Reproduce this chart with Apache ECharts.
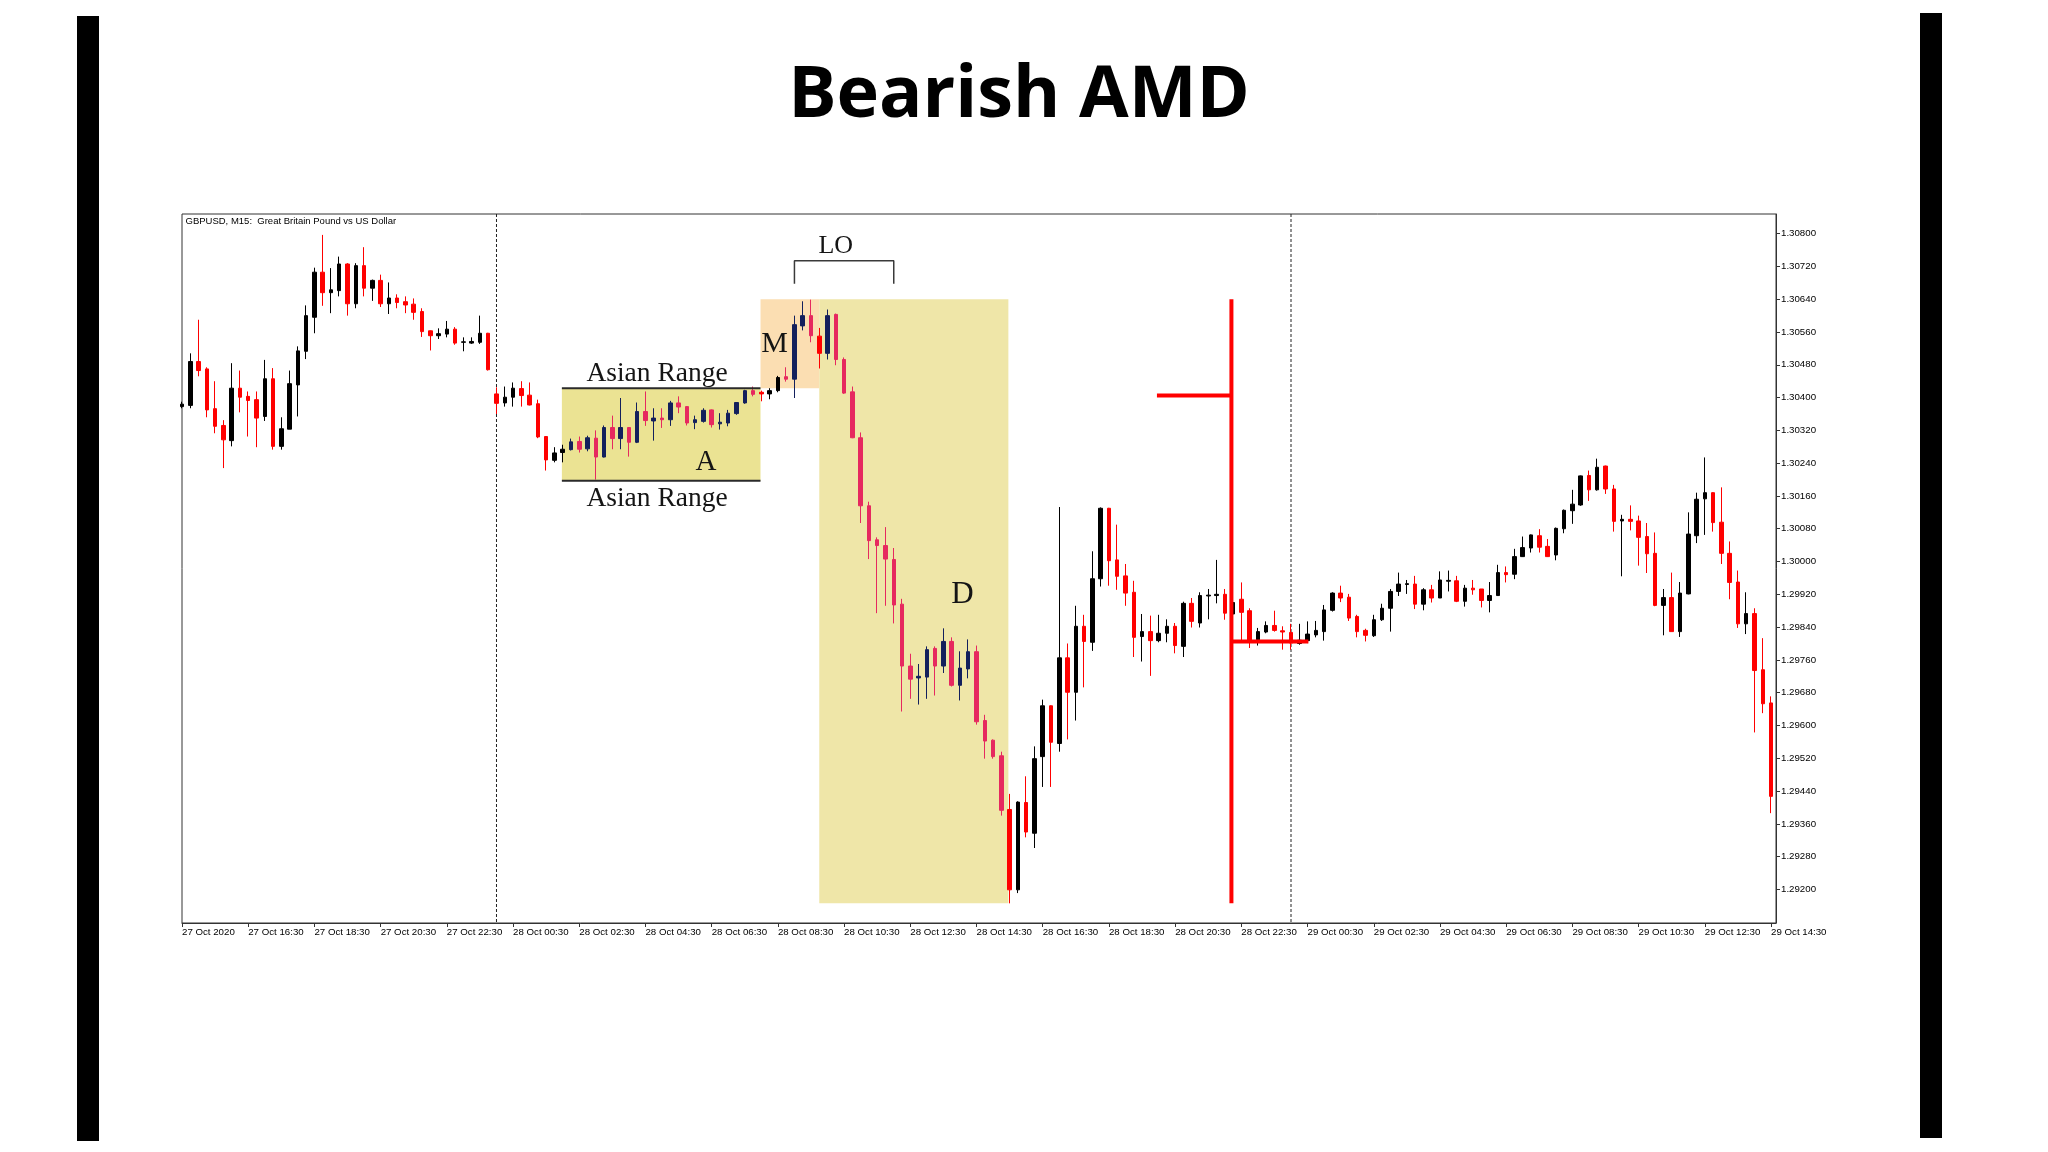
<!DOCTYPE html>
<html>
<head>
<meta charset="utf-8">
<title>Bearish AMD</title>
<script src="https://cdn.jsdelivr.net/npm/echarts@6.0.0/dist/echarts.min.js"></script>
<style>
html,body{margin:0;padding:0;background:#ffffff;}
#main{width:2048px;height:1152px;}
</style>
</head>
<body>
<div id="main"></div>
<script>
//x轴时间标签, 每8根K线(M15)一个
var timeLabels = ['27 Oct 2020','27 Oct 16:30','27 Oct 18:30','27 Oct 20:30','27 Oct 22:30',
	'28 Oct 00:30','28 Oct 02:30','28 Oct 04:30','28 Oct 06:30','28 Oct 08:30','28 Oct 10:30',
	'28 Oct 12:30','28 Oct 14:30','28 Oct 16:30','28 Oct 18:30','28 Oct 20:30','28 Oct 22:30',
	'29 Oct 00:30','29 Oct 02:30','29 Oct 04:30','29 Oct 06:30','29 Oct 08:30','29 Oct 10:30',
	'29 Oct 12:30','29 Oct 14:30'];
//y轴价格刻度
var yTicks = [1.2920,1.2928,1.2936,1.2944,1.2952,1.2960,1.2968,1.2976,1.2984,1.2992,
	1.3000,1.3008,1.3016,1.3024,1.3032,1.3040,1.3048,1.3056,1.3064,1.3072,1.3080];

//GBPUSD M15 K线数据
var opens = [
1.30378,1.30381,1.30488,1.30470,1.30373,1.30332,1.30295,1.30423,1.30403,1.30395,
1.30354,1.30446,1.30281,1.30323,1.30431,1.30513,1.30596,1.30706,1.30656,1.30661,
1.30726,1.30629,1.30722,1.30667,1.30686,1.30629,1.30643,1.30634,1.30628,1.30610,
1.30563,1.30551,1.30555,1.30567,1.30535,1.30533,1.30535,1.30557,1.30409,1.30387,
1.30401,1.30422,1.30406,1.30385,1.30305,1.30247,1.30266,1.30273,1.30293,1.30275,
1.30301,1.30255,1.30327,1.30300,1.30327,1.30291,1.30366,1.30343,1.30350,1.30346,
1.30387,1.30378,1.30339,1.30342,1.30370,1.30336,1.30338,1.30361,1.30387,1.30417,
1.30413,1.30409,1.30417,1.30451,1.30445,1.30575,1.30600,1.30550,1.30508,1.30603,
1.30493,1.30414,1.30302,1.30136,1.30053,1.30039,1.30005,1.29896,1.29745,1.29716,
1.29718,1.29788,1.29745,1.29805,1.29698,1.29738,1.29780,1.29612,1.29564,1.29526,
1.29395,1.29199,1.29412,1.29337,1.29524,1.29648,1.29556,1.29765,1.29681,1.29842,
1.29803,1.29958,1.30130,1.30004,1.29965,1.29925,1.29817,1.29829,1.29807,1.29825,
1.29842,1.29793,1.29898,1.29850,1.29916,1.29917,1.29920,1.29872,1.29908,1.29880,
1.29809,1.29828,1.29844,1.29831,1.29827,1.29800,1.29807,1.29821,1.29829,1.29881,
1.29923,1.29913,1.29866,1.29832,1.29819,1.29858,1.29886,1.29927,1.29944,1.29945,
1.29896,1.29931,1.29911,1.29952,1.29953,1.29903,1.29935,1.29933,1.29905,1.29917,
1.29973,1.29969,1.30012,1.30033,1.30063,1.30037,1.30016,1.30080,1.30124,1.30138,
1.30210,1.30175,1.30233,1.30177,1.30099,1.30103,1.30099,1.30061,1.30020,1.29893,
1.29912,1.29829,1.29921,1.30063,1.30153,1.30168,1.30096,1.30020,1.29950,1.29848,
1.29873,1.29736,1.29655];
var highs = [
1.30390,1.30508,1.30590,1.30474,1.30440,1.30345,1.30484,1.30466,1.30415,1.30415,
1.30492,1.30472,1.30352,1.30466,1.30525,1.30625,1.30717,1.30797,1.30716,1.30744,
1.30728,1.30728,1.30767,1.30688,1.30700,1.30681,1.30652,1.30647,1.30642,1.30618,
1.30564,1.30569,1.30587,1.30572,1.30547,1.30547,1.30600,1.30558,1.30425,1.30427,
1.30437,1.30440,1.30437,1.30395,1.30306,1.30279,1.30285,1.30300,1.30305,1.30307,
1.30320,1.30332,1.30356,1.30399,1.30328,1.30388,1.30415,1.30374,1.30374,1.30392,
1.30403,1.30379,1.30356,1.30374,1.30371,1.30362,1.30370,1.30389,1.30419,1.30427,
1.30417,1.30423,1.30453,1.30474,1.30600,1.30635,1.30639,1.30570,1.30615,1.30605,
1.30498,1.30427,1.30315,1.30146,1.30059,1.30084,1.30033,1.29909,1.29775,1.29750,
1.29793,1.29793,1.29837,1.29815,1.29781,1.29810,1.29795,1.29626,1.29566,1.29536,
1.29433,1.29415,1.29476,1.29549,1.29663,1.29649,1.30133,1.29800,1.29892,1.29870,
1.30025,1.30132,1.30131,1.30090,1.29994,1.29953,1.29872,1.29868,1.29870,1.29859,
1.29850,1.29902,1.29911,1.29925,1.29933,1.30004,1.29933,1.29905,1.29949,1.29886,
1.29838,1.29854,1.29880,1.29842,1.29848,1.29848,1.29854,1.29855,1.29894,1.29925,
1.29941,1.29921,1.29870,1.29836,1.29870,1.29897,1.29933,1.29973,1.29955,1.29965,
1.29935,1.29943,1.29976,1.29978,1.29965,1.29943,1.29955,1.29933,1.29950,1.29992,
1.29988,1.30031,1.30061,1.30066,1.30079,1.30055,1.30083,1.30127,1.30175,1.30210,
1.30222,1.30251,1.30234,1.30187,1.30114,1.30137,1.30112,1.30094,1.30071,1.29933,
1.29973,1.29950,1.30120,1.30168,1.30254,1.30169,1.30181,1.30049,1.29978,1.29925,
1.29886,1.29813,1.29671];
var lows = [
1.30374,1.30374,1.30452,1.30352,1.30313,1.30228,1.30281,1.30364,1.30305,1.30279,
1.30343,1.30273,1.30273,1.30323,1.30354,1.30494,1.30557,1.30624,1.30606,1.30647,
1.30600,1.30618,1.30647,1.30636,1.30621,1.30604,1.30618,1.30606,1.30590,1.30548,
1.30515,1.30543,1.30547,1.30529,1.30513,1.30531,1.30531,1.30466,1.30360,1.30378,
1.30378,1.30378,1.30381,1.30301,1.30222,1.30242,1.30242,1.30271,1.30266,1.30269,
1.30200,1.30254,1.30274,1.30274,1.30256,1.30289,1.30331,1.30295,1.30326,1.30331,
1.30362,1.30332,1.30323,1.30339,1.30327,1.30322,1.30330,1.30358,1.30385,1.30403,
1.30391,1.30396,1.30413,1.30439,1.30399,1.30564,1.30535,1.30471,1.30493,1.30479,
1.30409,1.30301,1.30094,1.30006,1.29874,1.29892,1.29849,1.29634,1.29665,1.29651,
1.29665,1.29673,1.29728,1.29695,1.29661,1.29715,1.29602,1.29519,1.29519,1.29380,
1.29166,1.29191,1.29327,1.29301,1.29450,1.29450,1.29536,1.29566,1.29612,1.29693,
1.29782,1.29939,1.29941,1.29931,1.29892,1.29767,1.29756,1.29721,1.29803,1.29803,
1.29776,1.29767,1.29839,1.29839,1.29859,1.29898,1.29858,1.29865,1.29805,1.29789,
1.29795,1.29825,1.29829,1.29785,1.29785,1.29797,1.29801,1.29815,1.29807,1.29878,
1.29901,1.29855,1.29815,1.29805,1.29816,1.29855,1.29829,1.29916,1.29921,1.29884,
1.29881,1.29900,1.29911,1.29927,1.29901,1.29890,1.29919,1.29888,1.29876,1.29917,
1.29949,1.29957,1.30011,1.30022,1.30022,1.30011,1.30003,1.30069,1.30092,1.30136,
1.30148,1.30173,1.30165,1.30073,1.29964,1.30076,1.29990,1.29972,1.29891,1.29820,
1.29829,1.29816,1.29920,1.30045,1.30065,1.30073,1.29994,1.29908,1.29838,1.29823,
1.29583,1.29630,1.29386];
var closes = [
1.30384,1.30488,1.30466,1.30370,1.30330,1.30297,1.30423,1.30401,1.30393,1.30350,
1.30446,1.30281,1.30324,1.30434,1.30514,1.30600,1.30706,1.30656,1.30663,1.30726,
1.30629,1.30722,1.30667,1.30686,1.30629,1.30643,1.30632,1.30626,1.30608,1.30561,
1.30551,1.30556,1.30567,1.30533,1.30536,1.30537,1.30557,1.30468,1.30386,1.30401,
1.30423,1.30405,1.30382,1.30304,1.30248,1.30265,1.30274,1.30292,1.30274,1.30302,
1.30255,1.30327,1.30300,1.30327,1.30291,1.30366,1.30344,1.30350,1.30346,1.30387,
1.30377,1.30338,1.30346,1.30369,1.30334,1.30340,1.30362,1.30388,1.30417,1.30408,
1.30409,1.30417,1.30449,1.30445,1.30578,1.30600,1.30551,1.30508,1.30600,1.30493,
1.30411,1.30302,1.30136,1.30051,1.30039,1.30006,1.29894,1.29745,1.29713,1.29720,
1.29785,1.29745,1.29805,1.29698,1.29740,1.29780,1.29609,1.29562,1.29524,1.29393,
1.29199,1.29413,1.29340,1.29519,1.29648,1.29559,1.29765,1.29681,1.29842,1.29805,
1.29958,1.30130,1.30002,1.29964,1.29923,1.29815,1.29829,1.29807,1.29825,1.29842,
1.29795,1.29898,1.29854,1.29917,1.29918,1.29920,1.29874,1.29900,1.29876,1.29803,
1.29829,1.29844,1.29832,1.29828,1.29801,1.29808,1.29823,1.29832,1.29882,1.29923,
1.29911,1.29862,1.29829,1.29820,1.29858,1.29886,1.29927,1.29945,1.29946,1.29896,
1.29931,1.29911,1.29955,1.29954,1.29903,1.29935,1.29931,1.29905,1.29917,1.29973,
1.29968,1.30012,1.30034,1.30065,1.30035,1.30012,1.30081,1.30125,1.30140,1.30209,
1.30175,1.30230,1.30177,1.30098,1.30103,1.30098,1.30059,1.30019,1.29893,1.29912,
1.29829,1.29923,1.30067,1.30152,1.30168,1.30095,1.30020,1.29949,1.29848,1.29873,
1.29734,1.29653,1.29427];

//坐标范围
var yMin = 1.29118, yMax = 1.30848, xMax = 192.6;
//日分隔线所在K线
var daySeparators = [38, 134];
//矩形: [起始K线, 结束K线, 上沿价格, 下沿价格]
var asianBox = [45.9, 69.9, 1.30423, 1.30197];
var manipBox = [69.9, 77.0, 1.30640, 1.30423];
var distBox = [77.0, 99.85, 1.30640, 1.29166];
//LO括号: [起始K线, 结束K线, 顶部, 底部]
var loBracket = [74, 86, 1.30734, 1.30678];
//红色大K线: 位置, 开 高 低 收, 开/收的横线长度
var sessionX = 126.8;
var sessionOHLC = [1.30405, 1.30640, 1.29166, 1.29805];
var sessionSpan = [117.8, 136.1];
//文字标注
var noteTexts = ['Asian Range', 'Asian Range', 'A', 'M', 'LO', 'D'];
var noteX = [57.4, 57.4, 63.3, 71.6, 79.0, 94.3];
var noteY = [1.30458, 1.30152, 1.30241, 1.30530, 1.30770, 1.29918];

var noteFontSizes = [27.5, 27.5, 29, 30, 26, 31];
var boxes = [asianBox, manipBox, distBox];
var boxColors = ['#ebe393', '#fbdeb2', '#efe6a8'];

//颜色: 普通K线 / 矩形内K线
var upColor = '#000000', downColor = '#ff0000';
var boxUpColor = '#13205c', boxDownColor = '#e6295f';

//判断K线是否在矩形内(会被染色)
function inBox(i) {
	var bodyLow = Math.min(opens[i], closes[i]);
	for (var k = 0; k < boxes.length; k++) {
		var b = boxes[k];
		if (i > b[0] + 0.5 && i < b[1] - 0.3 && bodyLow >= b[3] && bodyLow <= b[2]) {
			return true;
		}
	}
	return false;
}

var candleData = [];
for (var i = 0; i < opens.length; i++) {
	var up = closes[i] >= opens[i];
	var c = inBox(i) ? (up ? boxUpColor : boxDownColor) : (up ? upColor : downColor);
	candleData.push({
		value: [i, opens[i], closes[i], lows[i], highs[i]],
		itemStyle: {color: c, color0: c, borderColor: c, borderColor0: c, borderWidth: 1}
	});
}

var tickBars = [];
for (var i = 0; i < timeLabels.length; i++) {
	tickBars.push(i * 8);
}

//画线用的折线系列
function segment(points, color, width, type, z) {
	return {
		type: 'line',
		data: points,
		showSymbol: false,
		symbol: 'none',
		silent: true,
		z: z,
		lineStyle: {color: color, width: width, type: type || 'solid', cap: 'butt'}
	};
}

var series = [];
//背景矩形
series.push({
	type: 'custom',
	z: 1,
	silent: true,
	data: boxes,
	encode: {x: [0, 1], y: [2, 3]},
	renderItem: function (params, api) {
		var p0 = api.coord([api.value(0), api.value(2)]);
		var p1 = api.coord([api.value(1), api.value(3)]);
		return {
			type: 'rect',
			shape: {x: p0[0], y: p0[1], width: p1[0] - p0[0], height: p1[1] - p0[1]},
			style: {fill: boxColors[params.dataIndex]}
		};
	}
});
//日分隔线
for (var i = 0; i < daySeparators.length; i++) {
	series.push(segment([[daySeparators[i], yMax], [daySeparators[i], yMin]], '#222222', 1, [3, 2], 2));
}
//K线
series.push({
	type: 'candlestick',
	z: 3,
	data: candleData,
	barWidth: 4,
	silent: true,
	encode: {x: 0, y: [1, 2, 3, 4]}
});
//Asian Range上下沿
series.push(segment([[asianBox[0], asianBox[2]], [asianBox[1], asianBox[2]]], '#2a2a2a', 2, null, 4));
series.push(segment([[asianBox[0], asianBox[3]], [asianBox[1], asianBox[3]]], '#2a2a2a', 2, null, 4));
//LO括号
series.push(segment([[loBracket[0], loBracket[3]], [loBracket[0], loBracket[2]],
	[loBracket[1], loBracket[2]], [loBracket[1], loBracket[3]]], '#3a3a3a', 1.5, null, 4));
//红色大K线
series.push(segment([[sessionX, sessionOHLC[1]], [sessionX, sessionOHLC[2]]], '#ff0000', 4, null, 5));
series.push(segment([[sessionSpan[0], sessionOHLC[0]], [sessionX, sessionOHLC[0]]], '#ff0000', 4, null, 5));
series.push(segment([[sessionX, sessionOHLC[3]], [sessionSpan[1], sessionOHLC[3]]], '#ff0000', 4, null, 5));
//文字
series.push({
	type: 'custom',
	z: 6,
	silent: true,
	data: noteX.map(function (x, k) { return [x, noteY[k]]; }),
	encode: {x: 0, y: 1},
	renderItem: function (params, api) {
		var p = api.coord([api.value(0), api.value(1)]);
		return {
			type: 'text',
			x: p[0],
			y: p[1],
			style: {
				text: noteTexts[params.dataIndex],
				fontFamily: '"Liberation Serif", "Times New Roman", serif',
				fontSize: noteFontSizes[params.dataIndex],
				fill: '#151515',
				align: 'center',
				verticalAlign: 'middle'
			}
		};
	}
});

var axisFont = {fontFamily: '"Liberation Sans", Arial, sans-serif', fontSize: 9.7, color: '#000000'};

var myChart = echarts.init(document.getElementById('main'), null, {renderer: 'canvas'});
var option = {
	animation: false,
	backgroundColor: '#ffffff',
	grid: {
		left: 182, right: 272, top: 214, bottom: 229,
		show: true, borderColor: '#333333', borderWidth: 1,
		containLabel: false, outerBoundsMode: 'none'
	},
	xAxis: {
		type: 'value',
		min: 0,
		max: xMax,
		splitLine: {show: false},
		axisLine: {onZero: false, lineStyle: {color: '#333333', width: 1}},
		axisTick: {customValues: tickBars, length: 4, lineStyle: {color: '#333333'}},
		axisLabel: {
			customValues: tickBars,
			align: 'left',
			margin: 4,
			fontFamily: axisFont.fontFamily,
			fontSize: axisFont.fontSize,
			color: axisFont.color,
			formatter: function (v) { return timeLabels[Math.round(v / 8)]; }
		}
	},
	yAxis: {
		type: 'value',
		position: 'right',
		min: yMin,
		max: yMax,
		scale: true,
		splitLine: {show: false},
		axisLine: {show: true, onZero: false, lineStyle: {color: '#333333', width: 1}},
		axisTick: {show: true, customValues: yTicks, length: 4, lineStyle: {color: '#333333'}},
		axisLabel: {
			customValues: yTicks,
			margin: 5,
			fontFamily: axisFont.fontFamily,
			fontSize: axisFont.fontSize,
			color: axisFont.color,
			formatter: function (v) { return v.toFixed(5); }
		}
	},
	graphic: [
		//左右两侧黑条
		{type: 'rect', shape: {x: 77, y: 16, width: 22, height: 1125}, style: {fill: '#000000'}},
		{type: 'rect', shape: {x: 1920, y: 13, width: 22, height: 1125}, style: {fill: '#000000'}},
		//标题
		{type: 'text', x: 1019, y: 96, style: {text: 'Bearish AMD', fontFamily: '"Open Sans", sans-serif',
			fontWeight: 'bold', fontSize: 72, fill: '#000000', align: 'center', verticalAlign: 'middle'}},
		//图表左上角名称
		{type: 'text', x: 185.5, y: 221, style: {text: 'GBPUSD, M15:  Great Britain Pound vs US Dollar',
			fontFamily: '"Liberation Sans", Arial, sans-serif', fontSize: 9.5, fill: '#000000',
			align: 'left', verticalAlign: 'middle'}}
	],
	series: series
};
myChart.setOption(option);
</script>
</body>
</html>
